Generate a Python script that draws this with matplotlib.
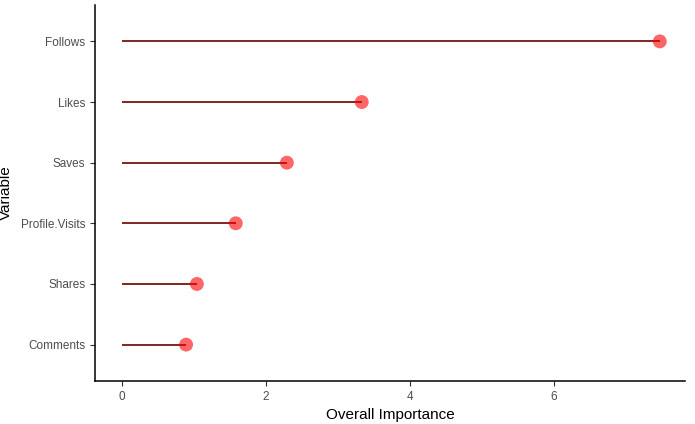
import matplotlib
matplotlib.use("Agg")
import matplotlib.pyplot as plt

variables = ["Comments", "Shares", "Profile.Visits", "Saves", "Likes", "Follows"]
importance = [0.89, 1.04, 1.58, 2.29, 3.33, 7.47]

plt.rcParams['font.family'] = ['Liberation Sans', 'DejaVu Sans']

fig = plt.figure(figsize=(6.95, 4.24), dpi=100)
ax = fig.add_axes([95 / 695, 43 / 424, 590 / 695, 376 / 424])

pos = list(range(1, len(variables) + 1))
ax.hlines(pos, 0, importance, color="#6B0000", linewidth=1.2)
ax.scatter(importance, pos, s=100, color="red", alpha=0.6, edgecolors="none", zorder=3)

ax.set_xlim(-0.375, 7.82)
ax.set_ylim(0.4, 6.6)
ax.set_yticks(pos)
ax.set_yticklabels(variables)
ax.set_xticks([0, 2, 4, 6])

for s in ["top", "right"]:
    ax.spines[s].set_visible(False)
for s in ["left", "bottom"]:
    ax.spines[s].set_linewidth(1.1)
ax.tick_params(colors="#333333", labelsize=8.5, length=3.5, width=0.8)
ax.tick_params(labelcolor="#4d4d4d")
ax.set_xlabel("Overall Importance", fontsize=11, labelpad=4)
ax.set_ylabel("Variable", fontsize=11, labelpad=6)

fig.savefig("out.png", dpi=100)
